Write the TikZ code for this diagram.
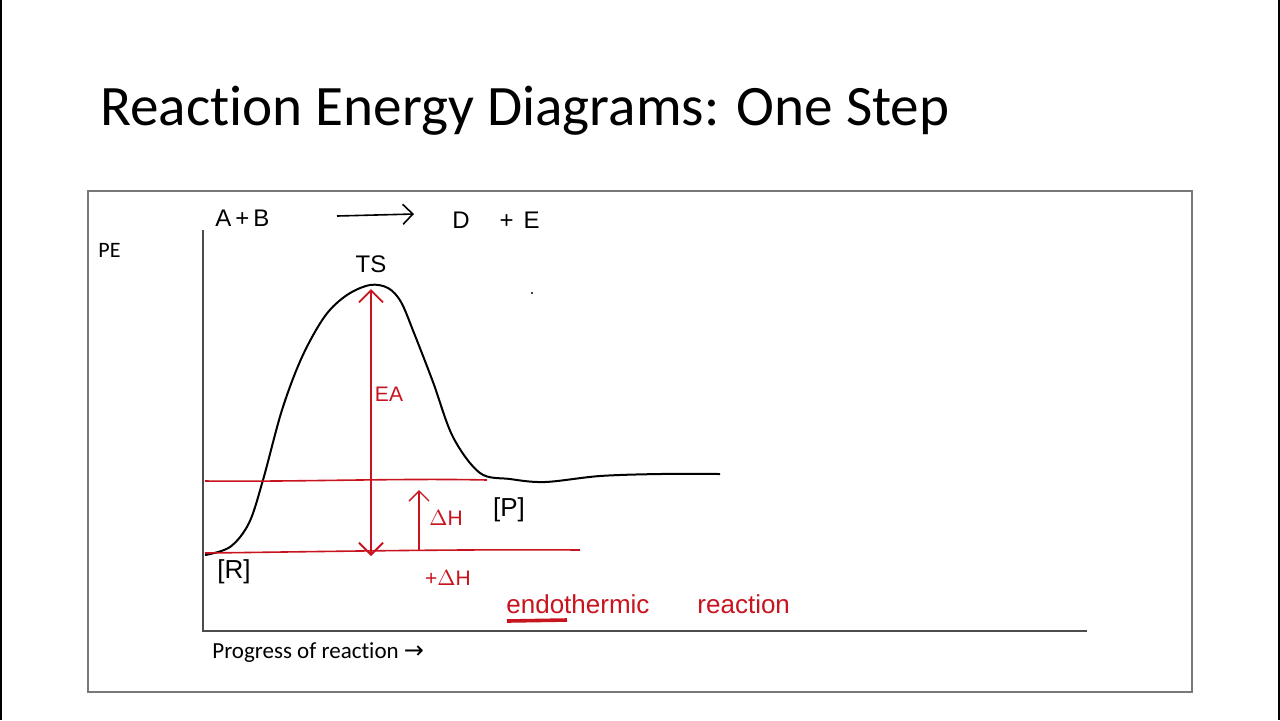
\documentclass[tikz,border=0pt]{standalone}
\usepackage{fontspec}
\setmainfont[Ligatures={NoCommon}]{Carlito}
\newfontfamily\hand{Liberation Sans}
\newfontfamily\djv{DejaVu Sans}
\usetikzlibrary{arrows.meta}
\definecolor{ink}{RGB}{200,20,30}
\definecolor{frame}{RGB}{120,120,120}
\tikzset{
  boxline/.style={draw=frame, line width=1.2pt},
  axisline/.style={draw=black!70, line width=1pt},
  curveline/.style={draw=black, line width=1pt},
  redline/.style={draw=ink, line width=0.8pt},
  redarrow/.style={draw=ink, line width=0.9pt},
  handblack/.style={font=\hand\fontsize{12}{12}\selectfont, text=black, inner sep=0pt},
  handred/.style={font=\hand\fontsize{10.5}{10.5}\selectfont, text=ink, inner sep=0pt},
  label/.style={font=\fontsize{11}{11}\selectfont, inner sep=0pt, anchor=base west},
}
\begin{document}
\begin{tikzpicture}[x=0.5pt, y=-0.5pt]
\useasboundingbox (0,0) rectangle (1280,720);
\fill[white] (0,0) rectangle (1280,720);
\fill[black] (0,0) rectangle (2,720);
\fill[black] (1278,0) rectangle (1280,720);
% title
\node[font=\fontsize{28.6}{28.6}\selectfont, anchor=base west, inner sep=0pt] (title) at (100,125) {Reaction Energy Diagrams: One Step};
% frame
\draw[boxline] (88,191) rectangle (1192,692);
% axes
\coordinate (ytop) at (203,230);
\coordinate (orig) at (203,631);
\coordinate (xend) at (1087,631);
\draw[axisline] (ytop) -- (orig) -- (xend);
\node[label] (pe) at (98,257) {PE};
\node[label, font=\fontsize{11.5}{11.5}\selectfont] (prog) at (212,658) {Progress of reaction {\djv\fontsize{12}{12}\selectfont →}};
% reaction equation
\node[handblack, anchor=west] (ab) at (215,218) {A\,+\,B};
\node[handblack, anchor=west] (de) at (452,220) {D\hspace{15pt}+\hspace{5pt}E};
\coordinate (ra1) at (337,216);
\coordinate (ra2) at (414,214);
\draw[line width=0.8pt, -{Straight Barb[length=5pt]}] (ra1) -- (ra2);
\node[handblack] (ts) at (371,264) {TS};
% energy curve
\draw[curveline] plot[smooth, tension=0.55] coordinates {(205,555) (230,547) (249,523) (263,480) (282,410) (302,357) (325,316) (347,295) (370,285) (388,288) (401,302) (414,333) (433,382) (453,437) (480,473) (510,479) (545,482) (600,476) (660,474) (720,474)};
% red levels
\draw[redline] (205,481) .. controls (300,482) and (400,478) .. (487,480);
\draw[redline] (205,553) .. controls (300,552) and (450,549) .. (580,550);
% activation energy arrow
\coordinate (tsp) at (371,289);
\coordinate (rlev) at (371,556);
\draw[redarrow, {Straight Barb[length=6pt]}-{Straight Barb[length=6pt]}] (tsp) -- (rlev);
\node[handred] (ea) at (389,394) {EA};
% delta H arrow
\coordinate (dh1) at (419,551);
\coordinate (dh2) at (419,490);
\draw[redarrow, line width=0.7pt, -{Straight Barb[length=5pt]}] (dh1) -- (dh2);
\node[handred] (dh) at (446,518) {$\Delta$H};
\node[handblack, font=\hand\fontsize{13}{13}\selectfont] (p) at (509,510) {[P]};
\node[handblack, font=\hand\fontsize{13}{13}\selectfont] (r) at (234,572) {[R]};
\node[handred] (pdh) at (448,578) {+$\Delta$H};
\node[handred, anchor=west, font=\hand\fontsize{13}{13}\selectfont] (endo) at (506,604) {endothermic\hspace{24pt}reaction};
\coordinate (u1) at (507,621);
\coordinate (u2) at (567,620);
\draw[ink, line width=1.8pt] (u1) -- (u2);
\fill[black] (532,293) circle (1.2);
\end{tikzpicture}
\end{document}
